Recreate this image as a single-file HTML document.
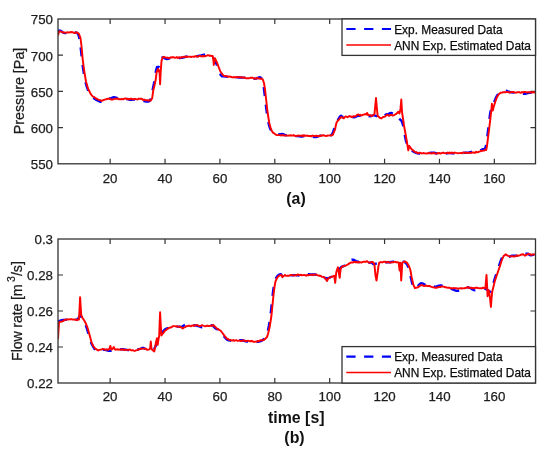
<!DOCTYPE html>
<html><head><meta charset="utf-8"><title>Figure</title>
<style>
html,body{margin:0;padding:0;background:#fff;}
body{width:550px;height:451px;position:relative;overflow:hidden;font-family:"Liberation Sans",sans-serif;}
svg text{font-family:"Liberation Sans",sans-serif;fill:#1c1c1c;stroke:#1c1c1c;stroke-width:0.25px;}
.tk{font-size:13.3px;}
.lg{font-size:11.9px;fill:#0c0c0c;stroke:#0c0c0c;}
.yl{font-size:14.3px;}
.bd{font-size:15.9px;font-weight:bold;fill:#111;stroke:none;}
</style></head><body>
<svg width="550" height="451" viewBox="0 0 550 451" style="position:absolute;left:0;top:0">
<clipPath id="c1"><rect x="58" y="19" width="477.5" height="144.8"/></clipPath>
<clipPath id="c2"><rect x="58" y="239" width="477.5" height="144"/></clipPath>
<path d="M110.14 163.8V158.8 M110.14 19.0V24.0 M165.03 163.8V158.8 M165.03 19.0V24.0 M219.91 163.8V158.8 M219.91 19.0V24.0 M274.80 163.8V158.8 M274.80 19.0V24.0 M329.68 163.8V158.8 M329.68 19.0V24.0 M384.57 163.8V158.8 M384.57 19.0V24.0 M439.45 163.8V158.8 M439.45 19.0V24.0 M494.34 163.8V158.8 M494.34 19.0V24.0 M58 55.2H63 M535.5 55.2H530.5 M58 91.4H63 M535.5 91.4H530.5 M58 127.6H63 M535.5 127.6H530.5 " stroke="#333" stroke-width="1.2" fill="none"/>
<path d="M110.14 383.0V378.0 M110.14 239.0V244.0 M165.03 383.0V378.0 M165.03 239.0V244.0 M219.91 383.0V378.0 M219.91 239.0V244.0 M274.80 383.0V378.0 M274.80 239.0V244.0 M329.68 383.0V378.0 M329.68 239.0V244.0 M384.57 383.0V378.0 M384.57 239.0V244.0 M439.45 383.0V378.0 M439.45 239.0V244.0 M494.34 383.0V378.0 M494.34 239.0V244.0 M58 275.0H63 M535.5 275.0H530.5 M58 311.0H63 M535.5 311.0H530.5 M58 347.0H63 M535.5 347.0H530.5 " stroke="#333" stroke-width="1.2" fill="none"/>
<g clip-path="url(#c1)" fill="none" stroke-linejoin="round">
<path d="M58.0 30.8 L59.0 30.8 L60.0 30.5 L61.0 31.0 L62.0 31.7 L63.0 32.5 L64.0 32.9 L65.0 33.1 L66.0 33.1 L67.0 32.9 L68.0 32.7 L69.0 32.5 L70.0 32.4 L71.0 32.3 L72.0 32.3 L73.0 32.4 L74.0 32.4 L75.0 32.4 L76.0 32.5 L77.0 32.9 L78.0 34.0 L79.0 36.6 L80.0 41.8 L81.0 50.6 L82.0 60.1 L83.0 68.1 L84.0 74.6 L85.0 80.0 L86.0 84.2 L87.0 87.4 L88.0 90.0 L89.0 92.1 L90.0 93.9 L91.0 95.3 L92.0 96.5 L93.0 97.5 L94.0 98.3 L95.0 99.0 L96.0 99.6 L97.0 100.2 L98.0 100.8 L99.0 101.3 L100.0 101.8 L101.0 101.8 L102.0 101.1 L103.0 100.4 L104.0 99.9 L105.0 99.6 L106.0 99.3 L107.0 99.0 L108.0 98.9 L109.0 98.8 L110.0 98.5 L111.0 98.2 L112.0 97.8 L113.0 97.4 L114.0 97.2 L115.0 97.4 L116.0 97.6 L117.0 98.0 L118.0 98.3 L119.0 98.5 L120.0 98.7 L121.0 98.7 L122.0 98.7 L123.0 98.7 L124.0 98.6 L125.0 98.7 L126.0 98.8 L127.0 99.0 L128.0 99.3 L129.0 99.5 L130.0 99.7 L131.0 99.7 L132.0 99.7 L133.0 99.6 L134.0 99.6 L135.0 99.6 L136.0 99.6 L137.0 99.6 L138.0 99.6 L139.0 99.6 L140.0 99.7 L141.0 100.0 L142.0 100.3 L143.0 100.7 L144.0 101.1 L145.0 101.4 L146.0 101.6 L147.0 101.6 L148.0 101.5 L149.0 101.3 L150.0 100.5 L151.0 98.3 L152.0 93.5 L153.0 87.9 L154.0 83.2 L155.0 77.1 L156.0 70.6 L157.0 67.1 L158.0 67.5 L159.0 66.1 L160.0 62.8 L161.0 59.5 L162.0 57.6 L163.0 57.3 L164.0 57.8 L165.0 58.5 L166.0 58.9 L167.0 59.0 L168.0 58.8 L169.0 58.5 L170.0 58.2 L171.0 57.9 L172.0 57.7 L173.0 57.6 L174.0 57.6 L175.0 57.6 L176.0 57.8 L177.0 57.9 L178.0 58.0 L179.0 58.1 L180.0 58.0 L181.0 57.9 L182.0 57.7 L183.0 57.5 L184.0 57.2 L185.0 57.0 L186.0 56.7 L187.0 56.5 L188.0 56.4 L189.0 56.3 L190.0 56.3 L191.0 56.3 L192.0 56.4 L193.0 56.4 L194.0 56.4 L195.0 56.4 L196.0 56.3 L197.0 56.1 L198.0 56.0 L199.0 55.8 L200.0 55.7 L201.0 55.5 L202.0 55.2 L203.0 55.0 L204.0 54.8 L205.0 54.7 L206.0 54.9 L207.0 55.3 L208.0 55.6 L209.0 55.9 L210.0 56.2 L211.0 56.4 L212.0 56.7 L213.0 57.5 L214.0 58.7 L215.0 60.5 L216.0 62.7 L217.0 65.2 L218.0 68.0 L219.0 70.9 L220.0 73.5 L221.0 75.4 L222.0 76.2 L223.0 76.3 L224.0 76.4 L225.0 76.5 L226.0 76.6 L227.0 76.7 L228.0 76.7 L229.0 76.6 L230.0 76.5 L231.0 76.5 L232.0 76.5 L233.0 76.6 L234.0 76.8 L235.0 76.9 L236.0 77.1 L237.0 77.3 L238.0 77.4 L239.0 77.5 L240.0 77.5 L241.0 77.6 L242.0 77.6 L243.0 77.6 L244.0 77.6 L245.0 77.6 L246.0 77.7 L247.0 77.9 L248.0 78.0 L249.0 78.2 L250.0 78.4 L251.0 78.6 L252.0 78.7 L253.0 78.8 L254.0 78.8 L255.0 78.7 L256.0 78.6 L257.0 78.3 L258.0 77.8 L259.0 77.4 L260.0 77.2 L261.0 77.7 L262.0 79.3 L263.0 82.9 L264.0 89.1 L265.0 97.4 L266.0 106.3 L267.0 114.1 L268.0 120.5 L269.0 125.2 L270.0 128.3 L271.0 130.5 L272.0 132.0 L273.0 132.9 L274.0 133.5 L275.0 133.9 L276.0 134.2 L277.0 134.4 L278.0 134.5 L279.0 134.4 L280.0 134.2 L281.0 134.1 L282.0 134.0 L283.0 134.2 L284.0 134.6 L285.0 135.0 L286.0 135.2 L287.0 135.3 L288.0 135.4 L289.0 135.4 L290.0 135.5 L291.0 135.6 L292.0 135.7 L293.0 135.9 L294.0 136.0 L295.0 136.0 L296.0 136.1 L297.0 136.1 L298.0 136.1 L299.0 136.2 L300.0 136.4 L301.0 136.5 L302.0 136.5 L303.0 136.3 L304.0 136.0 L305.0 135.8 L306.0 135.6 L307.0 135.6 L308.0 135.7 L309.0 135.8 L310.0 136.0 L311.0 136.2 L312.0 136.5 L313.0 136.7 L314.0 137.0 L315.0 137.1 L316.0 137.0 L317.0 136.8 L318.0 136.4 L319.0 136.1 L320.0 135.9 L321.0 135.7 L322.0 135.8 L323.0 135.9 L324.0 136.0 L325.0 136.0 L326.0 136.1 L327.0 136.1 L328.0 136.0 L329.0 135.9 L330.0 135.7 L331.0 135.3 L332.0 134.2 L333.0 132.2 L334.0 129.4 L335.0 125.6 L336.0 122.5 L337.0 120.9 L338.0 119.7 L339.0 118.1 L340.0 116.5 L341.0 115.8 L342.0 116.5 L343.0 117.2 L344.0 116.7 L345.0 116.4 L346.0 116.5 L347.0 116.4 L348.0 116.1 L349.0 116.0 L350.0 116.4 L351.0 116.8 L352.0 117.0 L353.0 117.1 L354.0 117.2 L355.0 117.0 L356.0 116.7 L357.0 116.2 L358.0 115.9 L359.0 115.8 L360.0 115.7 L361.0 115.4 L362.0 114.9 L363.0 114.6 L364.0 114.7 L365.0 114.7 L366.0 114.4 L367.0 114.9 L368.0 115.8 L369.0 116.1 L370.0 116.3 L371.0 116.1 L372.0 115.7 L373.0 115.4 L374.0 115.4 L375.0 115.6 L376.0 115.9 L377.0 116.3 L378.0 117.0 L379.0 117.7 L380.0 118.1 L381.0 117.8 L382.0 117.2 L383.0 116.6 L384.0 116.1 L385.0 115.3 L386.0 114.4 L387.0 114.3 L388.0 114.3 L389.0 113.7 L390.0 113.1 L391.0 112.9 L392.0 113.2 L393.0 113.7 L394.0 113.7 L395.0 113.8 L396.0 114.6 L397.0 115.9 L398.0 117.1 L399.0 118.3 L400.0 119.4 L401.0 120.4 L402.0 121.8 L403.0 125.2 L404.0 130.5 L405.0 136.2 L406.0 141.2 L407.0 143.9 L408.0 145.2 L409.0 146.6 L410.0 147.9 L411.0 149.3 L412.0 150.5 L413.0 151.3 L414.0 152.0 L415.0 152.5 L416.0 152.9 L417.0 153.2 L418.0 153.3 L419.0 153.5 L420.0 153.6 L421.0 153.7 L422.0 153.7 L423.0 153.7 L424.0 153.6 L425.0 153.4 L426.0 153.3 L427.0 153.2 L428.0 153.1 L429.0 153.0 L430.0 152.9 L431.0 152.8 L432.0 152.7 L433.0 152.7 L434.0 152.8 L435.0 153.0 L436.0 153.2 L437.0 153.6 L438.0 154.1 L439.0 154.5 L440.0 154.8 L441.0 155.0 L442.0 154.9 L443.0 154.6 L444.0 154.2 L445.0 153.8 L446.0 153.5 L447.0 153.3 L448.0 153.1 L449.0 153.1 L450.0 153.1 L451.0 153.1 L452.0 153.2 L453.0 153.2 L454.0 153.2 L455.0 153.2 L456.0 153.1 L457.0 153.1 L458.0 153.0 L459.0 153.1 L460.0 153.2 L461.0 153.3 L462.0 153.3 L463.0 153.2 L464.0 152.9 L465.0 152.7 L466.0 152.6 L467.0 152.6 L468.0 152.6 L469.0 152.5 L470.0 152.3 L471.0 152.0 L472.0 151.6 L473.0 151.4 L474.0 151.2 L475.0 151.3 L476.0 151.4 L477.0 151.5 L478.0 151.4 L479.0 151.1 L480.0 150.7 L481.0 150.1 L482.0 149.5 L483.0 149.1 L484.0 149.1 L485.0 148.7 L486.0 145.6 L487.0 138.8 L488.0 130.8 L489.0 122.5 L490.0 114.3 L491.0 109.4 L492.0 107.7 L493.0 105.8 L494.0 102.8 L495.0 99.9 L496.0 97.5 L497.0 95.7 L498.0 94.3 L499.0 93.4 L500.0 92.6 L501.0 92.1 L502.0 91.6 L503.0 91.2 L504.0 90.8 L505.0 90.6 L506.0 90.7 L507.0 91.0 L508.0 91.4 L509.0 91.7 L510.0 92.0 L511.0 92.2 L512.0 92.4 L513.0 92.5 L514.0 92.6 L515.0 92.6 L516.0 92.6 L517.0 92.7 L518.0 92.8 L519.0 93.0 L520.0 93.2 L521.0 93.5 L522.0 93.7 L523.0 93.9 L524.0 93.9 L525.0 93.8 L526.0 93.5 L527.0 93.3 L528.0 93.1 L529.0 92.9 L530.0 92.7 L531.0 92.5 L532.0 92.3 L533.0 92.2 L534.0 92.1 L535.0 92.1 L535.5 92.1" stroke="#0000ff" stroke-width="2.4" stroke-dasharray="9 8.6"/>
<path d="M58.0 35.5 L58.8 32.5 L59.6 31.3 L60.8 31.6 L62.0 31.9 L63.0 32.6 L64.0 32.5 L65.0 32.6 L66.0 32.7 L67.0 32.3 L68.0 32.5 L69.0 32.5 L70.0 32.4 L71.0 32.0 L72.0 32.3 L73.0 32.2 L74.0 32.9 L75.2 32.9 L76.3 32.2 L77.5 32.9 L78.8 33.7 L80.5 38.0 L81.6 47.0 L82.7 59.3 L84.2 71.0 L86.0 81.5 L88.0 88.5 L90.5 93.7 L91.8 95.3 L93.0 96.6 L94.0 96.9 L95.0 97.8 L96.0 98.6 L97.0 98.8 L98.0 99.6 L99.2 99.9 L100.3 100.1 L101.5 101.0 L102.8 100.3 L104.0 100.0 L105.0 99.5 L106.0 99.4 L107.0 99.0 L108.0 98.8 L109.0 98.8 L110.0 98.7 L111.0 99.6 L112.0 99.4 L113.0 99.4 L114.0 99.1 L115.0 98.7 L116.0 98.6 L117.0 98.7 L118.0 98.6 L119.0 99.3 L120.0 99.1 L121.0 99.3 L122.0 98.8 L123.0 99.3 L124.0 99.0 L125.0 98.4 L126.0 98.4 L127.0 99.2 L128.0 98.8 L129.0 99.4 L130.0 98.9 L131.0 98.6 L132.0 99.2 L133.0 99.4 L134.0 98.9 L135.0 99.0 L136.0 99.0 L137.0 99.5 L138.0 99.3 L139.0 98.6 L140.0 98.8 L141.1 98.8 L142.1 99.0 L143.2 100.0 L144.2 99.6 L145.3 100.2 L146.4 100.2 L147.4 100.1 L148.5 100.7 L149.5 100.2 L150.6 100.7 L152.2 98.2 L153.3 90.2 L154.6 84.9 L155.7 79.6 L156.6 72.3 L158.0 68.9 L158.9 71.6 L159.5 70.5 L160.1 84.2 L160.7 71.6 L161.5 61.0 L162.6 57.6 L163.9 56.8 L165.2 57.4 L166.6 57.8 L167.7 57.6 L168.7 58.2 L169.8 57.9 L170.8 57.3 L171.9 57.6 L172.9 57.1 L173.9 57.3 L174.9 57.8 L175.9 57.6 L176.9 57.1 L177.9 58.0 L178.9 57.3 L179.9 57.5 L180.9 57.8 L181.9 57.2 L182.9 57.1 L184.0 56.7 L185.0 56.6 L186.0 57.0 L187.0 56.7 L188.0 56.9 L189.0 56.6 L190.0 56.6 L191.0 57.1 L192.0 56.6 L193.0 56.6 L194.0 56.9 L195.0 56.3 L196.0 56.1 L197.0 56.8 L198.0 56.6 L199.0 56.0 L200.0 55.9 L201.0 56.4 L202.0 56.5 L203.0 55.8 L203.9 56.4 L204.8 56.3 L205.7 55.9 L206.6 55.7 L207.5 55.3 L208.4 55.2 L209.3 55.8 L210.4 55.5 L211.6 56.1 L212.7 55.9 L213.4 60.0 L213.8 64.9 L214.4 60.0 L214.9 58.2 L217.0 62.7 L218.8 67.5 L220.4 71.5 L222.5 74.5 L223.7 75.6 L224.9 76.0 L225.9 76.1 L227.0 76.2 L228.0 76.9 L229.2 76.4 L230.3 76.7 L231.5 77.0 L232.4 77.4 L233.4 77.2 L234.3 77.0 L235.2 77.6 L236.1 77.0 L237.1 76.9 L238.0 77.3 L239.0 77.4 L240.0 77.1 L241.0 77.2 L242.0 77.5 L243.0 77.8 L244.0 77.4 L245.0 77.7 L246.0 78.2 L246.9 78.4 L247.9 78.1 L248.9 78.2 L249.8 78.1 L250.8 77.7 L251.8 77.6 L252.7 77.7 L253.7 78.4 L254.8 78.4 L255.8 78.7 L256.9 77.8 L258.0 78.4 L259.2 78.4 L260.3 78.7 L261.5 78.5 L262.8 79.6 L264.0 83.0 L265.0 89.4 L266.1 99.0 L267.2 109.3 L268.3 117.0 L269.4 123.8 L270.5 127.5 L271.6 130.4 L273.0 132.8 L274.0 133.1 L275.0 134.2 L276.0 134.7 L277.0 135.0 L278.2 135.1 L279.4 135.1 L280.4 135.3 L281.3 135.5 L282.3 135.0 L283.3 135.3 L284.2 135.6 L285.2 135.6 L286.1 135.2 L287.1 135.6 L288.1 135.7 L289.0 135.4 L290.0 135.5 L290.9 135.3 L291.8 135.5 L292.7 135.6 L293.6 135.1 L294.5 135.6 L295.5 136.0 L296.4 135.9 L297.3 135.8 L298.2 135.5 L299.1 135.8 L300.0 135.6 L300.9 135.6 L301.8 136.0 L302.7 135.3 L303.6 136.0 L304.5 135.3 L305.5 135.9 L306.4 135.8 L307.3 135.5 L308.2 136.0 L309.1 135.9 L310.0 136.0 L311.0 136.4 L312.0 135.8 L312.9 135.6 L313.9 135.9 L314.9 136.3 L315.8 135.8 L316.8 135.7 L317.7 136.3 L318.7 136.0 L319.6 135.6 L320.6 136.0 L321.5 135.4 L322.4 135.7 L323.3 135.2 L324.2 135.5 L325.2 135.9 L326.1 136.0 L327.0 135.8 L327.9 135.5 L328.8 135.6 L329.7 135.4 L330.6 135.2 L331.5 135.5 L332.8 134.8 L333.7 132.6 L335.1 129.3 L335.8 125.5 L336.5 122.7 L337.5 121.0 L338.7 120.0 L340.0 118.2 L341.6 117.0 L342.7 117.7 L343.8 118.3 L345.3 116.5 L346.4 116.6 L347.5 117.3 L348.6 116.5 L349.6 116.1 L350.7 116.5 L351.8 117.0 L352.8 116.7 L353.7 116.2 L354.7 116.4 L355.6 116.3 L356.5 115.4 L357.5 114.6 L358.4 114.5 L359.4 115.3 L360.3 114.8 L361.3 115.6 L362.3 115.2 L363.2 114.6 L364.2 114.5 L365.3 114.1 L366.4 114.5 L367.1 113.0 L368.1 115.0 L369.2 115.3 L370.4 115.1 L371.5 116.1 L372.6 115.2 L373.6 114.8 L374.5 113.8 L375.1 107.5 L376.0 98.0 L376.8 107.5 L377.7 116.2 L378.6 116.4 L379.5 117.7 L381.2 118.4 L382.1 117.8 L383.1 117.0 L384.2 116.9 L385.3 116.4 L387.0 114.8 L387.9 115.0 L388.9 115.9 L389.9 115.3 L390.8 114.8 L391.8 115.0 L392.9 115.5 L394.0 115.3 L395.1 114.5 L396.2 113.9 L397.1 113.1 L398.1 111.8 L399.5 113.4 L400.5 108.9 L401.3 99.5 L402.0 111.8 L403.5 122.0 L404.0 125.5 L405.5 133.7 L407.0 142.5 L408.3 150.4 L409.2 145.9 L411.0 148.5 L412.1 149.7 L413.2 150.3 L414.3 151.5 L415.4 152.2 L416.5 152.1 L417.6 153.2 L418.5 153.2 L419.5 152.7 L420.4 153.0 L421.3 153.2 L422.2 153.5 L423.1 153.0 L424.1 153.2 L425.0 153.4 L425.9 153.5 L426.8 153.6 L427.7 153.1 L428.6 153.3 L429.5 152.9 L430.5 153.4 L431.4 153.5 L432.3 153.3 L433.2 153.3 L434.1 152.8 L435.0 153.3 L435.9 153.6 L436.8 153.6 L437.7 153.1 L438.7 153.4 L439.6 152.9 L440.5 153.5 L441.4 153.4 L442.3 152.9 L443.2 152.6 L444.1 153.0 L445.0 153.1 L446.0 153.3 L446.9 153.0 L447.8 152.5 L448.7 153.2 L449.6 152.6 L450.6 153.3 L451.5 152.6 L452.5 152.8 L453.4 153.2 L454.4 152.6 L455.3 152.6 L456.2 152.9 L457.2 153.1 L458.1 153.3 L459.1 153.1 L460.0 153.1 L461.0 152.9 L462.0 153.3 L463.0 152.4 L464.0 152.6 L465.0 152.9 L466.0 152.6 L467.0 153.0 L468.0 152.9 L469.1 152.8 L470.1 153.1 L471.2 152.7 L472.2 152.5 L473.3 152.5 L474.2 152.8 L475.2 152.7 L476.1 151.8 L477.1 152.3 L478.1 152.2 L479.0 151.6 L480.1 151.4 L481.1 150.8 L482.2 150.9 L483.2 150.6 L484.3 150.5 L485.2 149.6 L486.2 150.0 L487.0 146.0 L487.7 140.4 L488.8 131.5 L489.9 122.6 L490.7 115.5 L491.4 109.3 L491.9 103.8 L492.4 108.0 L492.8 110.5 L493.5 107.5 L494.3 104.9 L495.4 101.3 L496.5 98.3 L497.6 96.0 L498.8 94.3 L500.3 93.0 L501.2 92.6 L502.1 92.5 L503.2 92.3 L504.3 92.1 L505.4 92.3 L506.5 91.8 L507.4 92.1 L508.3 92.0 L509.2 92.6 L510.2 92.6 L511.1 91.9 L512.0 92.2 L513.0 91.9 L514.0 92.2 L515.0 92.6 L516.0 92.7 L517.0 92.3 L518.0 92.2 L519.0 92.1 L520.0 92.5 L521.0 92.8 L522.0 92.0 L523.0 92.6 L524.0 91.9 L525.0 92.0 L526.0 92.1 L527.0 92.5 L528.0 92.2 L528.9 92.2 L529.9 92.5 L530.8 92.0 L531.8 92.6 L532.7 92.0 L533.6 92.5 L534.6 92.2 L535.5 92.3" stroke="#ff0000" stroke-width="1.95"/>
</g>
<g clip-path="url(#c2)" fill="none" stroke-linejoin="round">
<path d="M58.0 321.3 L59.0 321.2 L60.0 320.7 L61.0 320.4 L62.0 320.2 L63.0 320.0 L64.0 320.0 L65.0 319.9 L66.0 319.8 L67.0 319.7 L68.0 319.7 L69.0 319.7 L70.0 319.8 L71.0 319.9 L72.0 319.9 L73.0 320.0 L74.0 319.9 L75.0 319.9 L76.0 319.8 L77.0 319.5 L78.0 318.8 L79.0 317.2 L80.0 315.8 L81.0 316.4 L82.0 318.3 L83.0 320.0 L84.0 321.7 L85.0 323.7 L86.0 326.0 L87.0 328.9 L88.0 332.3 L89.0 335.8 L90.0 339.4 L91.0 342.5 L92.0 344.7 L93.0 346.5 L94.0 348.2 L95.0 349.7 L96.0 350.9 L97.0 351.4 L98.0 351.2 L99.0 350.6 L100.0 350.1 L101.0 349.8 L102.0 349.8 L103.0 349.8 L104.0 349.9 L105.0 349.9 L106.0 350.1 L107.0 350.4 L108.0 350.7 L109.0 350.9 L110.0 350.9 L111.0 350.7 L112.0 350.5 L113.0 350.3 L114.0 350.1 L115.0 350.0 L116.0 349.8 L117.0 349.7 L118.0 349.5 L119.0 349.3 L120.0 349.2 L121.0 349.2 L122.0 349.2 L123.0 349.3 L124.0 349.4 L125.0 349.6 L126.0 349.7 L127.0 349.9 L128.0 350.1 L129.0 350.4 L130.0 350.6 L131.0 350.7 L132.0 350.7 L133.0 350.9 L134.0 350.8 L135.0 350.4 L136.0 349.9 L137.0 349.6 L138.0 349.4 L139.0 349.2 L140.0 348.9 L141.0 348.5 L142.0 348.0 L143.0 347.9 L144.0 348.2 L145.0 348.8 L146.0 349.3 L147.0 349.6 L148.0 349.4 L149.0 349.0 L150.0 349.0 L151.0 349.2 L152.0 349.6 L153.0 349.9 L154.0 349.1 L155.0 347.3 L156.0 345.4 L157.0 343.4 L158.0 341.2 L159.0 338.8 L160.0 336.5 L161.0 334.6 L162.0 333.0 L163.0 331.6 L164.0 330.3 L165.0 329.4 L166.0 328.9 L167.0 328.4 L168.0 328.2 L169.0 328.2 L170.0 328.0 L171.0 327.6 L172.0 327.1 L173.0 326.6 L174.0 326.5 L175.0 326.5 L176.0 326.5 L177.0 326.6 L178.0 326.6 L179.0 326.6 L180.0 326.7 L181.0 326.9 L182.0 326.8 L183.0 326.1 L184.0 325.4 L185.0 324.9 L186.0 324.6 L187.0 324.6 L188.0 324.8 L189.0 325.1 L190.0 325.2 L191.0 325.3 L192.0 325.3 L193.0 325.3 L194.0 325.3 L195.0 325.4 L196.0 325.5 L197.0 325.7 L198.0 326.0 L199.0 326.4 L200.0 326.7 L201.0 327.0 L202.0 327.2 L203.0 327.1 L204.0 326.9 L205.0 326.6 L206.0 326.3 L207.0 326.0 L208.0 325.8 L209.0 325.7 L210.0 325.5 L211.0 325.4 L212.0 325.3 L213.0 325.9 L214.0 327.0 L215.0 328.0 L216.0 328.7 L217.0 329.2 L218.0 329.8 L219.0 330.4 L220.0 331.2 L221.0 332.3 L222.0 333.6 L223.0 335.0 L224.0 336.4 L225.0 337.6 L226.0 338.8 L227.0 339.6 L228.0 340.1 L229.0 340.4 L230.0 340.6 L231.0 340.7 L232.0 340.9 L233.0 341.1 L234.0 341.5 L235.0 341.6 L236.0 341.3 L237.0 340.7 L238.0 340.3 L239.0 340.1 L240.0 340.1 L241.0 340.2 L242.0 340.3 L243.0 340.5 L244.0 340.8 L245.0 341.0 L246.0 341.3 L247.0 341.5 L248.0 341.8 L249.0 342.1 L250.0 342.4 L251.0 342.6 L252.0 342.7 L253.0 342.7 L254.0 342.5 L255.0 342.3 L256.0 342.1 L257.0 341.9 L258.0 341.7 L259.0 341.5 L260.0 341.2 L261.0 341.0 L262.0 340.5 L263.0 339.8 L264.0 339.1 L265.0 338.1 L266.0 336.7 L267.0 334.0 L268.0 330.2 L269.0 325.2 L270.0 318.9 L271.0 310.8 L272.0 301.1 L273.0 292.0 L274.0 285.0 L275.0 280.7 L276.0 278.2 L277.0 276.5 L278.0 275.4 L279.0 274.7 L280.0 274.2 L281.0 274.5 L282.0 274.8 L283.0 274.2 L284.0 274.2 L285.0 275.0 L286.0 275.6 L287.0 275.8 L288.0 275.8 L289.0 275.7 L290.0 275.6 L291.0 275.4 L292.0 275.3 L293.0 275.2 L294.0 275.1 L295.0 275.1 L296.0 275.1 L297.0 275.2 L298.0 275.3 L299.0 275.5 L300.0 275.6 L301.0 275.6 L302.0 275.5 L303.0 275.2 L304.0 274.7 L305.0 274.2 L306.0 273.9 L307.0 273.9 L308.0 274.1 L309.0 274.3 L310.0 274.5 L311.0 274.5 L312.0 274.5 L313.0 274.4 L314.0 274.4 L315.0 274.5 L316.0 274.7 L317.0 274.6 L318.0 274.5 L319.0 274.2 L320.0 274.1 L321.0 274.2 L322.0 274.7 L323.0 275.6 L324.0 276.8 L325.0 278.1 L326.0 278.5 L327.0 278.3 L328.0 278.1 L329.0 277.8 L330.0 277.4 L331.0 277.0 L332.0 276.6 L333.0 276.0 L334.0 274.8 L335.0 273.2 L336.0 271.9 L337.0 271.0 L338.0 270.2 L339.0 269.4 L340.0 268.3 L341.0 267.3 L342.0 266.6 L343.0 266.3 L344.0 265.9 L345.0 265.4 L346.0 264.5 L347.0 263.5 L348.0 262.3 L349.0 261.1 L350.0 260.2 L351.0 259.8 L352.0 259.6 L353.0 259.7 L354.0 260.0 L355.0 260.5 L356.0 261.1 L357.0 261.5 L358.0 261.8 L359.0 262.0 L360.0 262.1 L361.0 262.1 L362.0 262.3 L363.0 262.5 L364.0 262.6 L365.0 262.4 L366.0 262.1 L367.0 262.2 L368.0 262.6 L369.0 262.7 L370.0 262.6 L371.0 262.5 L372.0 262.9 L373.0 263.8 L374.0 264.2 L375.0 264.0 L376.0 263.7 L377.0 263.4 L378.0 263.0 L379.0 262.6 L380.0 262.3 L381.0 262.1 L382.0 262.0 L383.0 262.0 L384.0 262.0 L385.0 262.1 L386.0 262.2 L387.0 262.3 L388.0 262.3 L389.0 262.3 L390.0 262.2 L391.0 262.0 L392.0 261.9 L393.0 261.7 L394.0 261.6 L395.0 261.5 L396.0 261.4 L397.0 261.6 L398.0 261.7 L399.0 261.5 L400.0 261.4 L401.0 261.5 L402.0 261.6 L403.0 261.6 L404.0 261.8 L405.0 262.4 L406.0 263.2 L407.0 264.5 L408.0 266.3 L409.0 269.0 L410.0 273.2 L411.0 278.3 L412.0 282.7 L413.0 286.1 L414.0 288.1 L415.0 288.5 L416.0 288.2 L417.0 287.4 L418.0 286.1 L419.0 284.8 L420.0 283.8 L421.0 283.3 L422.0 283.4 L423.0 283.7 L424.0 284.1 L425.0 284.4 L426.0 284.4 L427.0 284.4 L428.0 284.4 L429.0 284.5 L430.0 284.9 L431.0 285.2 L432.0 285.6 L433.0 286.0 L434.0 286.4 L435.0 286.6 L436.0 286.6 L437.0 286.3 L438.0 286.0 L439.0 285.8 L440.0 285.5 L441.0 285.4 L442.0 285.7 L443.0 286.3 L444.0 286.9 L445.0 287.4 L446.0 287.8 L447.0 288.1 L448.0 288.3 L449.0 288.5 L450.0 288.7 L451.0 288.9 L452.0 289.2 L453.0 289.5 L454.0 289.9 L455.0 290.3 L456.0 290.7 L457.0 290.9 L458.0 290.8 L459.0 290.4 L460.0 290.0 L461.0 289.4 L462.0 288.9 L463.0 288.4 L464.0 287.9 L465.0 287.5 L466.0 287.3 L467.0 287.2 L468.0 287.3 L469.0 287.6 L470.0 288.0 L471.0 288.5 L472.0 289.1 L473.0 289.7 L474.0 290.1 L475.0 290.4 L476.0 290.4 L477.0 290.2 L478.0 289.9 L479.0 289.5 L480.0 289.0 L481.0 288.6 L482.0 288.3 L483.0 288.1 L484.0 288.1 L485.0 288.5 L486.0 289.1 L487.0 289.8 L488.0 290.4 L489.0 291.1 L490.0 291.7 L491.0 291.6 L492.0 289.3 L493.0 285.2 L494.0 281.2 L495.0 277.9 L496.0 274.9 L497.0 271.9 L498.0 268.9 L499.0 266.0 L500.0 262.9 L501.0 260.0 L502.0 257.7 L503.0 256.0 L504.0 255.2 L505.0 255.2 L506.0 255.9 L507.0 256.7 L508.0 257.1 L509.0 256.8 L510.0 256.4 L511.0 256.0 L512.0 255.8 L513.0 255.7 L514.0 255.7 L515.0 255.7 L516.0 255.7 L517.0 255.7 L518.0 255.6 L519.0 255.4 L520.0 254.9 L521.0 254.3 L522.0 253.8 L523.0 253.9 L524.0 254.4 L525.0 254.3 L526.0 253.8 L527.0 253.6 L528.0 253.8 L529.0 254.5 L530.0 255.1 L531.0 255.3 L532.0 255.1 L533.0 254.9 L534.0 254.7 L535.0 254.5 L535.5 254.4" stroke="#0000ff" stroke-width="2.4" stroke-dasharray="9 8.6"/>
<path d="M58.0 339.3 L58.5 330.0 L59.0 322.6 L60.2 321.8 L61.7 321.6 L62.9 321.2 L64.0 320.3 L65.0 319.7 L66.1 319.7 L67.2 319.3 L68.3 319.5 L69.4 319.4 L70.5 319.2 L71.7 319.3 L72.8 319.6 L74.0 319.4 L75.1 319.7 L76.1 319.5 L77.2 320.2 L78.3 319.3 L79.0 319.5 L79.6 308.0 L80.1 297.2 L80.7 307.0 L81.2 314.9 L82.0 316.8 L82.7 318.2 L84.4 320.8 L86.0 323.8 L87.2 326.8 L88.3 330.4 L90.0 336.5 L91.6 342.6 L93.3 346.0 L94.9 348.2 L96.5 349.4 L98.2 350.5 L99.3 349.9 L100.5 349.6 L101.6 349.5 L102.7 348.9 L103.9 349.1 L105.0 349.8 L106.1 349.6 L107.1 349.3 L108.2 349.9 L109.4 348.7 L110.4 345.9 L111.0 348.5 L111.5 349.7 L112.7 348.8 L113.8 347.0 L114.5 348.6 L115.3 349.7 L116.2 349.6 L117.2 349.3 L118.1 349.5 L119.1 349.7 L120.0 349.4 L121.0 349.8 L122.0 349.3 L123.0 349.4 L124.0 350.1 L125.0 349.8 L126.0 349.9 L126.9 350.0 L127.9 349.9 L128.8 349.8 L129.8 349.4 L130.7 350.1 L131.7 350.4 L132.6 350.1 L133.7 350.6 L134.8 350.9 L135.9 350.4 L137.0 350.1 L138.2 349.8 L139.3 349.1 L140.4 348.8 L141.5 348.7 L142.6 348.6 L143.7 348.6 L144.8 348.7 L145.9 348.6 L147.0 349.7 L148.1 349.7 L149.1 349.3 L150.1 348.7 L150.8 341.5 L151.4 348.0 L151.9 349.5 L153.1 350.4 L154.3 351.4 L155.2 347.0 L155.9 342.6 L157.0 338.2 L157.7 344.8 L158.5 339.0 L159.2 336.0 L159.7 322.0 L160.1 312.2 L160.7 324.0 L161.4 335.5 L162.5 334.0 L163.6 332.6 L165.0 330.6 L166.0 330.2 L167.0 329.1 L168.6 328.2 L170.3 327.5 L171.5 327.4 L172.7 326.2 L173.9 326.1 L174.9 326.1 L176.0 326.5 L177.0 326.3 L178.2 326.7 L179.3 326.6 L180.5 327.0 L181.6 327.6 L182.7 328.4 L183.8 327.6 L185.0 327.2 L186.1 326.2 L187.2 326.2 L188.2 325.8 L189.1 325.6 L190.1 326.1 L191.0 326.2 L192.0 325.5 L192.9 325.4 L193.8 325.9 L194.7 325.5 L195.6 325.3 L196.5 325.1 L197.4 325.1 L198.3 325.6 L199.2 326.0 L200.2 326.1 L201.2 325.7 L202.1 325.2 L203.1 325.6 L204.0 325.9 L205.1 326.2 L206.1 326.0 L207.2 325.6 L208.2 326.0 L209.3 326.0 L210.4 325.9 L211.5 325.5 L212.4 325.7 L213.3 325.1 L214.6 326.2 L216.0 327.6 L217.1 328.7 L218.2 328.9 L219.3 330.1 L220.4 330.4 L222.1 332.5 L223.8 334.8 L225.5 337.0 L227.1 338.9 L228.1 339.0 L229.0 339.7 L230.2 339.9 L231.5 340.5 L232.4 340.6 L233.3 340.1 L234.2 340.8 L235.2 340.4 L236.1 340.2 L237.0 340.5 L237.9 341.0 L238.9 340.5 L239.8 340.6 L240.7 340.9 L241.7 340.9 L242.6 340.5 L243.5 340.4 L244.4 340.7 L245.3 341.1 L246.2 341.0 L247.1 340.9 L248.0 340.8 L248.9 340.9 L249.9 341.3 L250.8 341.3 L251.8 340.8 L252.8 341.6 L253.7 341.7 L254.8 341.7 L255.8 341.6 L256.9 341.5 L258.0 341.0 L258.9 341.2 L259.8 340.6 L260.8 340.2 L261.7 340.4 L262.6 340.3 L263.8 340.1 L265.0 339.1 L266.0 338.0 L267.0 337.1 L268.1 333.5 L269.2 329.3 L270.3 323.0 L271.4 316.0 L272.5 305.0 L273.6 293.8 L274.5 287.0 L275.4 281.6 L276.8 278.5 L278.1 276.5 L279.7 275.4 L281.4 275.0 L282.5 277.2 L283.7 275.9 L285.0 274.9 L286.0 275.9 L287.0 275.8 L288.0 275.6 L289.0 275.8 L290.0 275.3 L291.0 275.0 L292.1 275.1 L293.1 275.4 L294.1 275.4 L295.1 275.2 L296.2 275.4 L297.2 274.8 L298.2 274.5 L299.1 275.0 L300.1 275.0 L301.1 274.8 L302.0 275.3 L303.0 275.1 L304.1 275.0 L305.1 275.1 L306.2 275.8 L307.2 274.9 L308.3 275.3 L309.2 275.1 L310.2 274.8 L311.1 274.9 L312.1 274.6 L313.0 275.2 L314.0 274.6 L314.9 274.6 L315.9 274.4 L316.9 275.0 L318.0 275.4 L319.0 275.7 L319.9 275.5 L320.9 276.1 L321.8 276.8 L322.7 276.9 L323.8 277.0 L324.8 277.9 L326.0 279.4 L327.0 281.0 L328.3 278.4 L329.4 277.7 L330.5 277.3 L331.6 276.9 L332.7 276.4 L334.1 275.7 L334.7 279.0 L335.2 282.8 L335.8 277.0 L336.3 272.2 L337.2 269.3 L337.9 267.3 L338.6 271.0 L339.2 275.0 L339.7 277.9 L340.2 273.0 L340.7 268.6 L341.6 267.2 L342.5 266.5 L343.7 266.0 L344.8 266.0 L346.0 265.4 L347.1 264.8 L348.3 264.1 L349.4 263.4 L350.5 262.7 L351.6 262.4 L352.7 262.5 L353.8 262.0 L354.9 261.8 L355.9 262.4 L356.9 261.9 L358.0 262.6 L359.0 262.2 L359.9 262.0 L360.9 262.5 L361.8 262.5 L362.8 261.9 L363.7 261.8 L364.8 261.8 L365.9 261.7 L367.0 261.1 L368.1 262.1 L369.2 262.7 L370.3 262.6 L371.5 262.0 L372.6 262.0 L374.3 263.7 L374.9 269.0 L375.4 274.9 L376.5 280.5 L377.2 275.5 L377.9 270.5 L378.5 266.0 L379.2 262.7 L380.1 262.3 L381.0 262.1 L382.3 262.4 L383.6 261.8 L384.5 261.7 L385.4 261.8 L386.3 262.6 L387.3 262.2 L388.2 261.8 L389.1 262.6 L390.0 262.5 L391.0 262.6 L392.1 262.1 L393.1 262.4 L394.1 261.9 L395.1 261.7 L396.2 262.4 L397.2 262.2 L398.6 262.5 L399.6 270.5 L400.3 262.7 L400.8 271.0 L401.2 280.5 L401.8 271.0 L402.3 262.7 L403.5 262.1 L405.0 261.4 L405.9 262.0 L406.8 262.6 L408.3 264.9 L409.5 267.5 L410.5 270.5 L411.6 277.1 L412.5 281.0 L413.4 284.9 L414.9 288.2 L416.0 287.7 L417.2 287.6 L418.8 286.6 L420.5 285.4 L421.4 285.3 L422.3 285.3 L423.2 285.5 L424.1 286.1 L425.0 285.9 L426.1 285.5 L427.1 286.1 L428.2 286.0 L429.3 286.0 L430.4 286.4 L431.4 286.8 L432.5 287.2 L433.7 287.3 L434.8 287.7 L436.0 287.8 L437.0 287.7 L438.0 287.2 L439.0 287.0 L439.9 286.9 L440.8 286.9 L441.7 286.3 L442.6 286.6 L443.7 286.6 L444.8 287.3 L445.9 287.3 L447.0 287.6 L447.9 287.7 L448.8 287.6 L449.7 287.8 L450.6 288.1 L451.5 288.3 L452.5 288.6 L453.4 288.0 L454.4 288.1 L455.3 288.2 L456.3 288.3 L457.2 288.4 L458.2 288.7 L459.3 288.4 L460.4 288.1 L461.4 288.5 L462.5 288.2 L463.4 288.4 L464.3 288.3 L465.2 288.0 L466.1 288.1 L467.0 287.3 L468.0 287.3 L468.9 288.1 L469.9 287.8 L470.8 287.6 L471.8 288.3 L472.7 288.0 L473.7 288.2 L474.8 288.0 L475.8 287.8 L476.9 287.6 L477.9 288.1 L479.0 288.1 L479.9 288.4 L480.8 288.2 L481.7 288.3 L482.7 287.8 L483.6 287.7 L484.5 288.3 L485.4 288.0 L486.0 281.0 L486.5 274.9 L487.1 286.0 L487.6 296.2 L488.5 290.0 L489.3 292.5 L490.1 299.0 L490.9 306.9 L491.5 299.0 L492.2 291.8 L493.5 286.5 L494.8 281.1 L496.6 275.8 L498.4 270.5 L500.2 265.2 L501.9 259.8 L503.7 255.9 L504.6 255.4 L505.5 254.3 L506.8 255.1 L508.1 255.9 L509.0 256.2 L509.9 256.4 L510.8 256.4 L511.7 256.1 L512.6 256.2 L513.7 256.5 L514.9 256.5 L516.0 255.9 L516.9 255.5 L517.9 255.8 L518.8 255.6 L519.7 255.3 L520.9 254.7 L522.0 254.5 L523.2 254.3 L525.0 255.7 L526.8 254.7 L528.5 253.8 L529.4 254.3 L530.3 254.3 L531.2 255.0 L532.3 254.4 L533.4 254.6 L534.5 254.5 L535.5 254.0" stroke="#ff0000" stroke-width="1.95"/>
</g>
<rect x="58" y="19" width="477.5" height="144.8" fill="none" stroke="#333" stroke-width="1.3"/>
<rect x="58" y="239" width="477.5" height="144" fill="none" stroke="#333" stroke-width="1.3"/>
<rect x="342" y="19" width="193.5" height="36.4" fill="#fff" stroke="#333" stroke-width="1.3"/>
<path d="M346.3 29H391" stroke="#0000ff" stroke-width="2.1" stroke-dasharray="9.3 8.5" fill="none"/>
<path d="M346.3 45H391" stroke="#ff0000" stroke-width="1.5" fill="none"/>
<text x="394.2" y="33.6" class="lg">Exp. Measured Data</text>
<text x="394.2" y="49.5" class="lg">ANN Exp. Estimated Data</text>
<rect x="342" y="346.6" width="193.5" height="36.4" fill="#fff" stroke="#333" stroke-width="1.3"/>
<path d="M346.3 356.6H391" stroke="#0000ff" stroke-width="2.1" stroke-dasharray="9.3 8.5" fill="none"/>
<path d="M346.3 372.6H391" stroke="#ff0000" stroke-width="1.5" fill="none"/>
<text x="394.2" y="361.2" class="lg">Exp. Measured Data</text>
<text x="394.2" y="377.1" class="lg">ANN Exp. Estimated Data</text>
<text x="110.1" y="182.9" class="tk" text-anchor="middle">20</text>
<text x="110.1" y="401.4" class="tk" text-anchor="middle">20</text>
<text x="165.0" y="182.9" class="tk" text-anchor="middle">40</text>
<text x="165.0" y="401.4" class="tk" text-anchor="middle">40</text>
<text x="219.9" y="182.9" class="tk" text-anchor="middle">60</text>
<text x="219.9" y="401.4" class="tk" text-anchor="middle">60</text>
<text x="274.8" y="182.9" class="tk" text-anchor="middle">80</text>
<text x="274.8" y="401.4" class="tk" text-anchor="middle">80</text>
<text x="329.7" y="182.9" class="tk" text-anchor="middle">100</text>
<text x="329.7" y="401.4" class="tk" text-anchor="middle">100</text>
<text x="384.6" y="182.9" class="tk" text-anchor="middle">120</text>
<text x="384.6" y="401.4" class="tk" text-anchor="middle">120</text>
<text x="439.5" y="182.9" class="tk" text-anchor="middle">140</text>
<text x="439.5" y="401.4" class="tk" text-anchor="middle">140</text>
<text x="494.3" y="182.9" class="tk" text-anchor="middle">160</text>
<text x="494.3" y="401.4" class="tk" text-anchor="middle">160</text>
<text x="53" y="24.4" class="tk" text-anchor="end">750</text>
<text x="53" y="60.6" class="tk" text-anchor="end">700</text>
<text x="53" y="96.8" class="tk" text-anchor="end">650</text>
<text x="53" y="133.0" class="tk" text-anchor="end">600</text>
<text x="53" y="169.2" class="tk" text-anchor="end">550</text>
<text x="53" y="244.4" class="tk" text-anchor="end">0.3</text>
<text x="53" y="280.4" class="tk" text-anchor="end">0.28</text>
<text x="53" y="316.4" class="tk" text-anchor="end">0.26</text>
<text x="53" y="352.4" class="tk" text-anchor="end">0.24</text>
<text x="53" y="388.4" class="tk" text-anchor="end">0.22</text>
<text transform="translate(24,91) rotate(-90)" class="yl" text-anchor="middle">Pressure [Pa]</text>
<text transform="translate(21.6,360.9) rotate(-90)" class="yl" text-anchor="start" textLength="76.6" lengthAdjust="spacing">Flow rate [m</text>
<text transform="translate(15.0,281.9) rotate(-90)" class="yl" style="font-size:10.5px" text-anchor="start">3</text>
<text transform="translate(21.6,276.1) rotate(-90)" class="yl" text-anchor="start">/s]</text>
<text x="296" y="203.7" class="bd" text-anchor="middle">(a)</text>
<text x="296.3" y="422.6" class="bd" text-anchor="middle">time [s]</text>
<text x="294.5" y="442.5" class="bd" text-anchor="middle">(b)</text>
</svg>
</body></html>
